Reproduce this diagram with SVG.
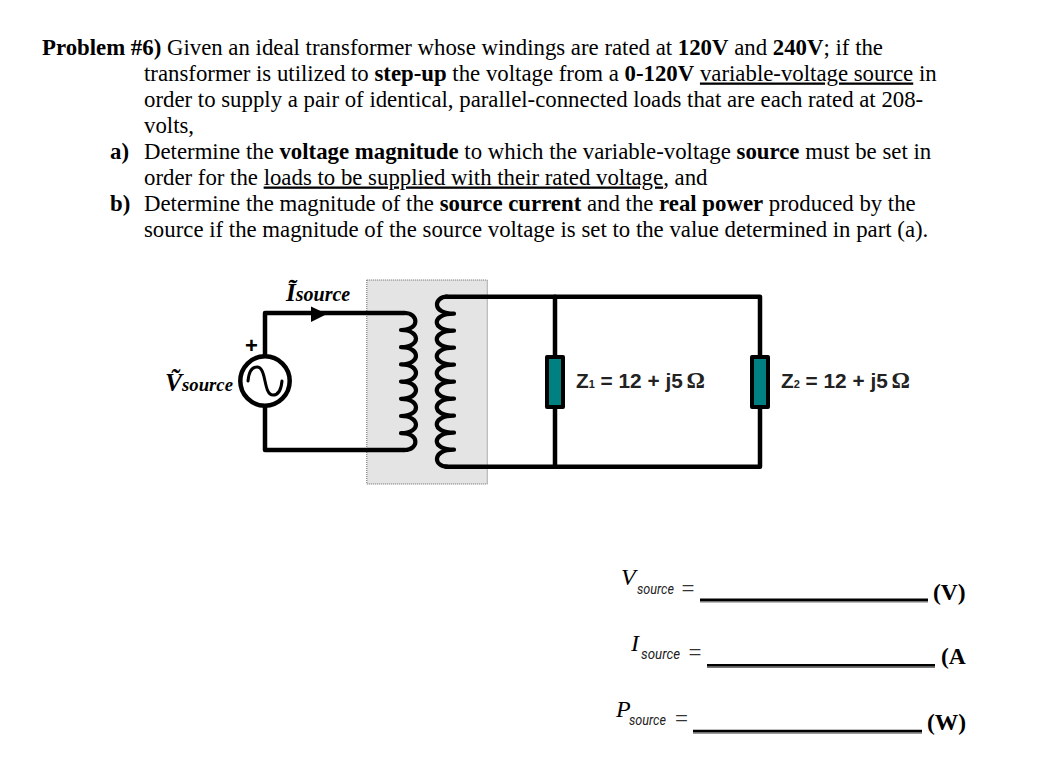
<svg xmlns="http://www.w3.org/2000/svg" width="1062" height="762" viewBox="0 0 1062 762">
<style>
text{font-family:"Liberation Serif","Times New Roman",serif;fill:#000}
.p{font-size:22.8px}
.b{font-weight:700}
.u{text-decoration:underline}
.w{fill:none;stroke:#000;stroke-width:4.5;stroke-linejoin:round;stroke-linecap:round}
.t{fill:none;stroke:#000;stroke-width:4.2;stroke-linecap:round;stroke-linejoin:round}
.load{fill:#008080;stroke:#000;stroke-width:4;stroke-linejoin:round}
.vi{font-style:italic;font-size:24px}
.sub{font-family:"Roboto",sans-serif;font-style:italic;font-size:15.5px;fill:#222}
.eq{font-size:23px;fill:#333}
.ans{font-weight:700;font-size:23.5px}
.ul{stroke:#000;stroke-width:2.5}
.ug{stroke:#777;stroke-width:1.5}
.lab{font-family:"Liberation Sans",Arial,sans-serif;font-weight:700;font-size:20.8px;fill:#222}
.om{font-family:"Liberation Serif",serif;font-size:23px}
.sym{font-style:italic;font-weight:700}
.plus{font-family:"Liberation Sans",Arial,sans-serif;font-weight:700;font-size:22px}
</style>
<g id="problem-text" class="p">
<text x="42" y="54.5"><tspan class="b">Problem #6)</tspan> Given an ideal transformer whose windings are rated at <tspan class="b">120V</tspan> and <tspan class="b">240V</tspan>; if the</text>
<text x="144" y="80.5">transformer is utilized to <tspan class="b">step-up</tspan> the voltage from a <tspan class="b">0-120V</tspan> <tspan class="u">variable-voltage source</tspan> in</text>
<text x="144" y="106.5">order to supply a pair of identical, parallel-connected loads that are each rated at 208-</text>
<text x="144" y="132.5">volts,</text>
<text x="110" y="158.5" class="b">a)</text>
<text x="144" y="158.5">Determine the <tspan class="b">voltage magnitude</tspan> to which the variable-voltage <tspan class="b">source</tspan> must be set in</text>
<text x="144" y="184.5">order for the <tspan class="u">loads to be supplied with their rated voltage</tspan>, and</text>
<text x="110" y="210.5" class="b">b)</text>
<text x="144" y="210.5">Determine the magnitude of the <tspan class="b">source current</tspan> and the <tspan class="b">real power</tspan> produced by the</text>
<text x="144" y="236.5">source if the magnitude of the source voltage is set to the value determined in part (a).</text>
</g>
<g id="core"><rect x="366.8" y="280" width="120.5" height="204" fill="#e4e4e4" stroke="#666" stroke-width="1" stroke-dasharray="1 1"/></g>
<g id="connectors">
<path class="w" d="M265 355V313H405"/>
<path class="w" d="M265 407V450H405"/>
<path class="w" d="M446 296.7H760V466.7H446"/>
<path class="w" d="M555 296.7V355M555 409V466.7"/>
</g>
<g id="current-arrow"><polygon points="311,306.5 327,314 311,322"/></g>
<g id="primary-winding"><path class="t" d="M405 313C418 313 421 330 401 330C421 330 421 347.2 401 347.2C421 347.2 421 364.4 401 364.4C421 364.4 421 381.6 401 381.6C421 381.6 421 398.8 401 398.8C421 398.8 421 416 401 416C421 416 421 433.2 401 433.2C421 433.2 418 450 405 450"/></g>
<g id="secondary-winding"><path class="t" d="M447 296.7C434 296.7 431 313.7 454 313.7C431 313.7 431 330.7 454 330.7C431 330.7 431 347.7 454 347.7C431 347.7 431 364.7 454 364.7C431 364.7 431 381.7 454 381.7C431 381.7 431 398.7 454 398.7C431 398.7 431 415.7 454 415.7C431 415.7 431 432.7 454 432.7C431 432.7 431 449.7 454 449.7C431 449.7 434 466.7 447 466.7"/></g>
<g id="source">
<circle cx="265" cy="381" r="24.7" fill="#fff" stroke="#000" stroke-width="4.5"/>
<path fill="none" stroke="#000" stroke-width="3" stroke-linecap="round" d="M248 381C249 370 253 367 257 367C267 367 263 395 273 395C277 395 281 392 282 381"/>
<text x="245" y="353" class="plus">+</text>
<text x="165" y="391" class="sym" font-size="26" textLength="68" lengthAdjust="spacingAndGlyphs">Ṽ<tspan font-size="19">source</tspan></text>
</g>
<g id="current-label">
<text x="286" y="301" class="sym" font-size="25">Ĩ<tspan font-size="20">source</tspan></text>
</g>
<g id="load-1"><rect class="load" x="547" y="357" width="16" height="50"/><text class="lab" x="576" y="388">Z<tspan font-size="11">1</tspan> = 12 + j5 <tspan class="om" dx="-2">Ω</tspan></text></g>
<g id="load-2"><rect class="load" x="752" y="357" width="16" height="50"/><text class="lab" x="781" y="388">Z<tspan font-size="11">2</tspan> = 12 + j5 <tspan class="om" dx="-2">Ω</tspan></text></g>
<g id="answer-v">
<text class="vi" x="621" y="585">V</text><text class="sub" x="637" y="594" textLength="37" lengthAdjust="spacingAndGlyphs">source</text><text class="eq" x="681.5" y="596">=</text>
<line class="ug" x1="700" y1="601.7" x2="928" y2="601.7"/><line class="ul" x1="700" y1="599.7" x2="928" y2="599.7"/><text class="ans" x="933" y="600">(V)</text>
</g>
<g id="answer-i">
<text class="vi" x="631" y="651">I</text><text class="sub" x="641" y="659" textLength="39" lengthAdjust="spacingAndGlyphs">source</text><text class="eq" x="688.5" y="660">=</text>
<line class="ug" x1="707" y1="667.2" x2="935" y2="667.2"/><line class="ul" x1="707" y1="665.2" x2="935" y2="665.2"/><text class="ans" x="941" y="664">(A</text>
</g>
<g id="answer-p">
<text class="vi" x="616" y="717">P</text><text class="sub" x="629" y="725" textLength="37" lengthAdjust="spacingAndGlyphs">source</text><text class="eq" x="675" y="726">=</text>
<line class="ug" x1="693" y1="733" x2="922" y2="733"/><line class="ul" x1="693" y1="731" x2="922" y2="731"/><text class="ans" x="927" y="730">(W)</text>
</g>
</svg>
